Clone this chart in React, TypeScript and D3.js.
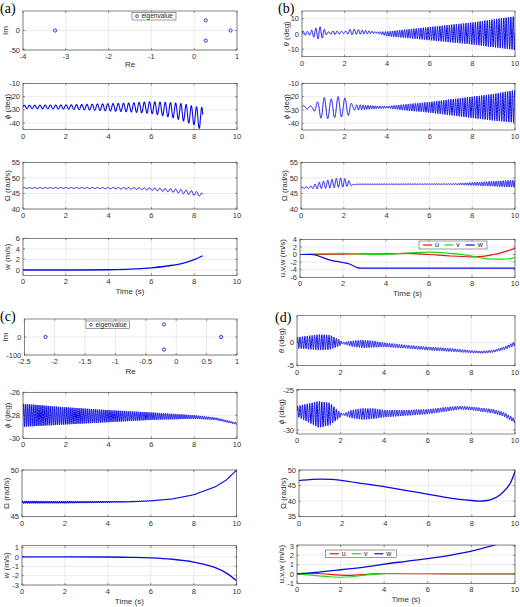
import React from "react";
import * as d3 from "d3";

// ---------------- data ----------------
const timeTicks = [0, 2, 4, 6, 8, 10];

// eigenvalues
const eigARe = [-3.25, 0.27, 0.27, 0.85];
const eigAIm = [0, 26, -26, 0];
const eigCRe = [-2.15, -0.2, -0.2, 0.74];
const eigCIm = [0, 70, -70, 0];

// (a) phi envelope (deg)
const aPhiT = [0, 2, 4, 5, 6, 7, 7.5, 8, 8.4];
const aPhiUp = [-26.6, -26.3, -25.4, -24.8, -23.8, -24.6, -25.5, -27.5, -28.2];
const aPhiLo = [-29.0, -29.4, -30.8, -31.6, -32.8, -36.0, -38.5, -41.5, -46.0];
const aPhiFT = [0, 8.4];
const aPhiF = [4.1, 4.1];

// (a) Omega envelope (rad/s)
const aOmT = [0, 3, 5, 6, 7, 7.5, 8, 8.4];
const aOmUp = [46.9, 46.9, 46.9, 46.8, 46.5, 46.2, 45.8, 45.0];
const aOmLo = [46.6, 46.6, 46.4, 46.0, 45.4, 44.9, 44.4, 44.0];
const aOmFT = [0, 8.4];
const aOmF = [4.1, 4.1];

// (a) w (m/s)
const aWT = [0, 2, 4, 5, 6, 7, 7.5, 8, 8.4];
const aW = [0, 0, 0.05, 0.15, 0.42, 0.9, 1.3, 1.95, 2.7];

// (b) theta envelope
const bThT = [0, 0.3, 0.6, 0.8, 1.0, 1.2, 1.5, 2.0, 2.3, 2.5, 3.0, 3.5, 4, 5, 6, 7, 8, 9, 10];
const bThUp = [1.9, 1.5, 3.5, 5.0, 3.5, 1.2, 2.0, 1.5, 3.2, 3.0, 2.2, 1.3, 1.5, 3.0, 4.5, 6.0, 7.5, 9.5, 11.5];
const bThLo = [-1.1, -0.5, -2.5, -3.6, -2.5, 0.2, -0.5, 0.5, -0.6, -0.3, 0, 0.5, -1.5, -2.8, -4.2, -5.6, -7.0, -8.8, -10.5];
const bThFT = [0, 2.5, 4, 10];
const bThF = [5, 5, 9, 9];

// (b) phi envelope
const bPhT = [0, 0.5, 0.8, 1.0, 1.3, 1.7, 2.0, 2.2, 2.4, 2.6, 3, 3.5, 4, 5, 6, 7, 8, 9, 10];
const bPhUp = [-26.8, -27, -23, -20.5, -22, -20, -21, -21.5, -27, -26, -26.5, -27, -27.2, -25.5, -24, -22, -20, -18, -15];
const bPhLo = [-29, -29.5, -35, -37.5, -36, -35.5, -35, -34, -30, -30, -29.5, -29, -28.6, -30.5, -32, -34, -36, -38, -39.5];
const bPhFT = [0, 2.3, 3, 10];
const bPhF = [3.1, 3.1, 9, 9];

// (b) Omega envelope
const bOmT = [0, 0.4, 0.8, 1.2, 1.6, 1.9, 2.2, 2.4, 2.6, 7, 8, 9, 10];
const bOmUp = [47.0, 47.2, 48.5, 49.2, 49.8, 50.0, 49.5, 47.9, 48.0, 48.1, 48.5, 48.9, 49.3];
const bOmLo = [46.6, 46.6, 46.5, 46.7, 46.9, 47.0, 47.3, 47.6, 47.9, 47.9, 47.6, 47.3, 47.0];
const bOmFT = [0, 2.4, 3, 10];
const bOmF = [5, 5, 9, 9];

// (b) u, v, w
const bUvT = [0, 1, 2, 3, 4, 5, 6, 7, 8, 8.5, 9, 9.5, 10];
const bU = [0, 0.05, 0.1, 0.15, 0.2, 0.3, 0, -0.4, -0.6, -0.5, 0, 0.7, 1.6];
const bV = [0, 0.2, 0.3, 0.1, 0, 0.4, 0.6, 0.3, -0.4, -1.0, -1.2, -1.2, -0.8];
const bWT = [0, 0.5, 0.7, 1, 1.5, 2, 2.3, 2.6, 2.8, 3, 4, 5, 6, 7, 8, 9, 10];
const bW = [0, 0, -0.1, -0.7, -1.6, -2.1, -2.5, -3.3, -3.6, -3.6, -3.6, -3.6, -3.6, -3.6, -3.6, -3.6, -3.6];

// (c) phi envelope
const cPhT = [0, 2, 4, 6, 8, 9, 10];
const cPhUp = [-27.0, -27.3, -27.55, -27.75, -28.0, -28.2, -28.65];
const cPhLo = [-29.0, -28.8, -28.6, -28.4, -28.3, -28.4, -28.8];
const cPhFT = [0, 10];
const cPhF = [11, 11];

// (c) Omega envelope
const cOmT = [0, 2, 4, 5, 6, 7, 8, 9, 9.5, 10];
const cOmUp = [46.65, 46.63, 46.63, 46.63, 46.72, 46.91, 47.36, 48.2, 48.9, 50.0];
const cOmLo = [46.45, 46.47, 46.53, 46.57, 46.68, 46.89, 47.34, 48.2, 48.9, 50.0];
const cOmFT = [0, 10];
const cOmF = [11, 11];

// (c) w
const cWT = [0, 4, 5, 6, 7, 8, 8.5, 9, 9.5, 10];
const cW = [0, -0.01, -0.04, -0.1, -0.25, -0.55, -0.8, -1.15, -1.7, -2.55];

// (d) theta envelope
const dThT = [0, 0.5, 1.0, 1.5, 1.9, 2.1, 2.5, 3.0, 3.5, 4.0, 5, 6, 7, 8, 8.5, 9, 9.5, 10];
const dThUp = [1.2, 1.5, 1.8, 1.7, 0.8, 0.1, 0.4, 0.6, 0.4, 0.0, -0.5, -0.9, -1.2, -1.7, -1.8, -1.6, -0.9, 0.2];
const dThLo = [-1.2, -1.4, -1.6, -1.5, -0.8, -0.2, -0.8, -1.1, -1.0, -0.9, -1.2, -1.6, -1.9, -2.2, -2.3, -2.1, -1.5, -0.6];
const dThFT = [0, 10];
const dThF = [9, 9];

// (d) phi envelope
const dPhT = [0, 0.5, 1.0, 1.5, 1.9, 2.1, 2.5, 3.0, 3.5, 4, 5, 6, 7, 7.5, 8, 9, 9.5, 10];
const dPhUp = [-27.0, -26.7, -26.4, -26.6, -27.6, -28.0, -27.5, -27.3, -27.3, -27.5, -27.5, -27.4, -27.1, -27.0, -27.1, -27.4, -27.8, -28.6];
const dPhLo = [-28.3, -29.0, -29.7, -29.4, -28.6, -28.1, -28.5, -28.7, -28.6, -28.4, -28.2, -28.0, -27.6, -27.4, -27.5, -27.9, -28.3, -29.1];
const dPhFT = [0, 10];
const dPhF = [9, 9];

// (d) Omega
const dOmT = [0, 0.5, 1, 1.5, 2, 3, 4, 5, 6, 7, 8, 8.3, 8.7, 9, 9.3, 9.6, 9.8, 10];
const dOm = [46.6, 46.9, 47.1, 47.0, 46.6, 45.6, 44.6, 43.4, 42.2, 41.0, 40.2, 40.0, 40.2, 40.8, 42.0, 44.0, 46.0, 49.5];

// (d) u, v, w
const dUvT = [0, 0.5, 1, 1.5, 2, 2.5, 3, 3.5, 4, 5, 6, 7, 8, 9, 10];
const dU = [0, 0.05, 0.05, -0.05, -0.12, -0.15, -0.08, 0.0, 0.05, 0.03, 0.02, 0, 0, 0, 0];
const dV = [0, -0.1, -0.2, -0.3, -0.35, -0.3, -0.15, -0.05, 0.02, 0.05, 0.05, 0.04, 0.03, 0.02, 0.02];
const dW = [0, 0.08, 0.2, 0.32, 0.45, 0.57, 0.7, 0.87, 1.05, 1.35, 1.65, 2.0, 2.45, 3.05, 3.8];

// ---------------- helpers ----------------
const BLUE = "#0a0ae6";
const RED = "#f01010";
const GREEN = "#18e018";
const FONT = "'Liberation Sans', Arial, sans-serif";
const AXC = "#3a3a3a";

type Pt = [number, number];

function oscSeries(t: number[], up: number[], lo: number[], fT: number[], fV: number[], tEnd: number): Pt[] {
  const upS = d3.scaleLinear().domain(t).range(up).clamp(true);
  const loS = d3.scaleLinear().domain(t).range(lo).clamp(true);
  const fS = d3.scaleLinear().domain(fT).range(fV).clamp(true);
  const dt = 0.004;
  const pts: Pt[] = [];
  let phase = 0;
  const n = Math.round(tEnd / dt);
  for (let i = 0; i <= n; i++) {
    const s = i * dt;
    const u = upS(s), l = loS(s);
    pts.push([s, (u + l) / 2 + ((u - l) / 2) * Math.sin(phase)]);
    phase += 2 * Math.PI * fS(s) * dt;
  }
  return pts;
}

function zip(t: number[], v: number[]): Pt[] {
  return t.map((d, i) => [d, v[i]] as Pt);
}

type Scale = d3.ScaleLinear<number, number>;

interface AxesProps {
  id: string;
  x0: number; x1: number; y0: number; y1: number;
  xd: number[]; yd: number[];
  xt: number[]; yt: number[];
  ylab: React.ReactNode;
  ylabOff?: number;
  xlab?: string;
  xlabOff?: number;
  children: (x: Scale, y: Scale) => React.ReactNode;
  overlay?: (x: Scale, y: Scale) => React.ReactNode;
}

function Axes(p: AxesProps) {
  const x = d3.scaleLinear().domain(p.xd).range([p.x0, p.x1]);
  const y = d3.scaleLinear().domain(p.yd).range([p.y1, p.y0]);
  const cid = `clip-${p.id}`;
  const fs = 7.5;
  return (
    <g>
      <clipPath id={cid}>
        <rect x={p.x0} y={p.y0} width={p.x1 - p.x0} height={p.y1 - p.y0} />
      </clipPath>
      <rect x={p.x0} y={p.y0} width={p.x1 - p.x0} height={p.y1 - p.y0} fill="#fff" />
      {p.xt.map((v) => (
        <line key={"gx" + v} x1={x(v)} x2={x(v)} y1={p.y0} y2={p.y1} stroke="#dedede" strokeWidth={0.6} />
      ))}
      {p.yt.map((v) => (
        <line key={"gy" + v} x1={p.x0} x2={p.x1} y1={y(v)} y2={y(v)} stroke="#dedede" strokeWidth={0.6} />
      ))}
      <g clipPath={`url(#${cid})`}>{p.children(x, y)}</g>
      <rect x={p.x0} y={p.y0} width={p.x1 - p.x0} height={p.y1 - p.y0} fill="none" stroke={AXC} strokeWidth={0.6} />
      {p.xt.map((v) => (
        <g key={"tx" + v}>
          <line x1={x(v)} x2={x(v)} y1={p.y1} y2={p.y1 - 2} stroke={AXC} strokeWidth={0.5} />
          <line x1={x(v)} x2={x(v)} y1={p.y0} y2={p.y0 + 2} stroke={AXC} strokeWidth={0.5} />
          <text x={x(v)} y={p.y1 + 9} fontSize={fs} textAnchor="middle" fill="#333" fontFamily={FONT}>
            {String(v)}
          </text>
        </g>
      ))}
      {p.yt.map((v) => (
        <g key={"ty" + v}>
          <line x1={p.x0} x2={p.x0 + 2} y1={y(v)} y2={y(v)} stroke={AXC} strokeWidth={0.5} />
          <line x1={p.x1} x2={p.x1 - 2} y1={y(v)} y2={y(v)} stroke={AXC} strokeWidth={0.5} />
          <text x={p.x0 - 3} y={y(v) + 2.7} fontSize={fs} textAnchor="end" fill="#333" fontFamily={FONT}>
            {String(v)}
          </text>
        </g>
      ))}
      <text
        transform={`translate(${p.x0 - (p.ylabOff ?? 16)},${(p.y0 + p.y1) / 2}) rotate(-90)`}
        fontSize={8}
        textAnchor="middle"
        dominantBaseline="central"
        fill="#333"
        fontFamily={FONT}
      >
        {p.ylab}
      </text>
      {p.xlab && (
        <text x={(p.x0 + p.x1) / 2} y={p.y1 + (p.xlabOff ?? 19)} fontSize={8} textAnchor="middle" fill="#333" fontFamily={FONT}>
          {p.xlab}
        </text>
      )}
      {p.overlay && p.overlay(x, y)}
    </g>
  );
}

function Path({ pts, x, y, color = BLUE, w = 1, smooth = false }: { pts: Pt[]; x: Scale; y: Scale; color?: string; w?: number; smooth?: boolean }) {
  const gen = d3
    .line<Pt>()
    .x((d) => x(d[0]))
    .y((d) => y(d[1]))
    .curve(smooth ? d3.curveMonotoneX : d3.curveLinear);
  return <path d={gen(pts) || ""} fill="none" stroke={color} strokeWidth={w} strokeLinejoin="round" />;
}

function Eigs({ re, im, x, y }: { re: number[]; im: number[]; x: Scale; y: Scale }) {
  return (
    <g>
      {re.map((r, i) => (
        <circle key={i} cx={x(r)} cy={y(im[i])} r={1.6} fill="none" stroke="#2222bb" strokeWidth={0.9} />
      ))}
    </g>
  );
}

function EigLegend({ lx, ly, w, h }: { lx: number; ly: number; w: number; h: number }) {
  return (
    <g>
      <rect x={lx} y={ly} width={w} height={h} fill="#fff" stroke={AXC} strokeWidth={0.5} />
      <circle cx={lx + 5} cy={ly + h / 2} r={1.4} fill="none" stroke="#2222bb" strokeWidth={0.8} />
      <text x={lx + 9.5} y={ly + h / 2 + 2.3} fontSize={6.5} fill="#222" fontFamily={FONT}>
        eigenvalue
      </text>
    </g>
  );
}

function UvwLegend({ lx, ly, w, h }: { lx: number; ly: number; w: number; h: number }) {
  const items = [
    { c: RED, t: "u" },
    { c: GREEN, t: "v" },
    { c: BLUE, t: "w" },
  ];
  const step = (w - 4) / 3;
  return (
    <g>
      <rect x={lx} y={ly} width={w} height={h} fill="#fff" stroke={AXC} strokeWidth={0.5} />
      {items.map((it, i) => {
        const sx = lx + 4 + i * step;
        return (
          <g key={it.t}>
            <line x1={sx} x2={sx + 9} y1={ly + h / 2} y2={ly + h / 2} stroke={it.c} strokeWidth={1.2} />
            <text x={sx + 12} y={ly + h / 2 + 2.4} fontSize={7} fill="#222" fontFamily={FONT}>
              {it.t}
            </text>
          </g>
        );
      })}
    </g>
  );
}

const Sym = ({ s }: { s: string }) => <tspan fontStyle="italic">{s}</tspan>;

export default function App() {
  const aPhi = oscSeries(aPhiT, aPhiUp, aPhiLo, aPhiFT, aPhiF, 8.4);
  const aOm = oscSeries(aOmT, aOmUp, aOmLo, aOmFT, aOmF, 8.4);
  const bTh = oscSeries(bThT, bThUp, bThLo, bThFT, bThF, 10);
  const bPh = oscSeries(bPhT, bPhUp, bPhLo, bPhFT, bPhF, 10);
  const bOm = oscSeries(bOmT, bOmUp, bOmLo, bOmFT, bOmF, 10);
  const cPh = oscSeries(cPhT, cPhUp, cPhLo, cPhFT, cPhF, 10);
  const cOm = oscSeries(cOmT, cOmUp, cOmLo, cOmFT, cOmF, 10);
  const dTh = oscSeries(dThT, dThUp, dThLo, dThFT, dThF, 10);
  const dPh = oscSeries(dPhT, dPhUp, dPhLo, dPhFT, dPhF, 10);

  const L0 = 23, L1 = 237;
  const R1 = 515;
  const serif = "'Liberation Serif', 'Times New Roman', serif";

  return (
    <svg width={520} height={607} style={{ position: "absolute", left: 0, top: 0, background: "#fff" }}>
      <rect width={520} height={607} fill="#fff" />
      {/* panel letters */}
      <text x={0} y={13} fontSize={14} fontFamily={serif} fill="#000">(a)</text>
      <text x={278} y={13} fontSize={14} fontFamily={serif} fill="#000">(b)</text>
      <text x={0} y={321} fontSize={14} fontFamily={serif} fill="#000">(c)</text>
      <text x={275} y={322} fontSize={14} fontFamily={serif} fill="#000">(d)</text>

      {/* ---------- (a) ---------- */}
      <Axes id="a1" x0={L0} x1={L1} y0={11} y1={50} xd={[-4, 1]} yd={[-50, 50]} xt={[-4, -3, -2, -1, 0, 1]} yt={[-50, 0]}
        ylab="Im" ylabOff={18} xlab="Re" xlabOff={17}
        overlay={() => <EigLegend lx={132} ly={12.3} w={44} h={7.7} />}>
        {(x, y) => <Eigs re={eigARe} im={eigAIm} x={x} y={y} />}
      </Axes>
      <Axes id="a2" x0={L0} x1={L1} y0={83.5} y1={129.5} xd={[0, 10]} yd={[-45, -10]} xt={timeTicks} yt={[-40, -30, -20, -10]}
        ylab={<><Sym s="ϕ" /> (deg)</>}>
        {(x, y) => <Path pts={aPhi} x={x} y={y} w={1.1} />}
      </Axes>
      <Axes id="a3" x0={L0} x1={L1} y0={162.3} y1={209} xd={[0, 10]} yd={[40, 55]} xt={timeTicks} yt={[40, 45, 50, 55]}
        ylab="Ω (rad/s)">
        {(x, y) => <Path pts={aOm} x={x} y={y} w={1.0} />}
      </Axes>
      <Axes id="a4" x0={L0} x1={L1} y0={238.3} y1={275.3} xd={[0, 10]} yd={[-1, 6]} xt={timeTicks} yt={[0, 2, 4, 6]}
        ylab="w (m/s)" xlab="Time (s)">
        {(x, y) => <Path pts={zip(aWT, aW)} x={x} y={y} smooth w={1.3} />}
      </Axes>

      {/* ---------- (b) ---------- */}
      <Axes id="b1" x0={302} x1={R1} y0={11} y1={56.7} xd={[0, 10]} yd={[-15, 15]} xt={timeTicks} yt={[-10, 0, 10]}
        ylab={<><Sym s="θ" /> (deg)</>}>
        {(x, y) => <Path pts={bTh} x={x} y={y} w={1.0} />}
      </Axes>
      <Axes id="b2" x0={302} x1={R1} y0={83.3} y1={130} xd={[0, 10]} yd={[-45, -10]} xt={timeTicks} yt={[-40, -30, -20, -10]}
        ylab={<><Sym s="ϕ" /> (deg)</>}>
        {(x, y) => <Path pts={bPh} x={x} y={y} w={1.0} />}
      </Axes>
      <Axes id="b3" x0={301} x1={R1} y0={162.3} y1={209} xd={[0, 10]} yd={[40, 55]} xt={timeTicks} yt={[40, 45, 50, 55]}
        ylab="Ω (rad/s)" ylabOff={17}>
        {(x, y) => <Path pts={bOm} x={x} y={y} w={1.0} />}
      </Axes>
      <Axes id="b4" x0={300} x1={R1} y0={239.3} y1={277.3} xd={[0, 10]} yd={[-6, 4]} xt={timeTicks} yt={[-6, -4, -2, 0, 2, 4]}
        ylab="u,v,w (m/s)" ylabOff={18} xlab="Time (s)"
        overlay={() => <UvwLegend lx={419} ly={241} w={68} h={8} />}>
        {(x, y) => (
          <>
            <Path pts={zip(bUvT, bU)} x={x} y={y} color={RED} smooth w={1.2} />
            <Path pts={zip(bUvT, bV)} x={x} y={y} color={GREEN} smooth w={1.2} />
            <Path pts={zip(bWT, bW)} x={x} y={y} color={BLUE} smooth w={1.2} />
          </>
        )}
      </Axes>

      {/* ---------- (c) ---------- */}
      <Axes id="c1" x0={24.3} x1={L1} y0={319} y1={355} xd={[-2.5, 1]} yd={[-100, 100]} xt={[-2.5, -2, -1.5, -1, -0.5, 0, 0.5, 1]} yt={[-100, 0]}
        ylab="Im" ylabOff={19} xlab="Re" xlabOff={19}
        overlay={() => <EigLegend lx={86} ly={321} w={43.5} h={7.5} />}>
        {(x, y) => <Eigs re={eigCRe} im={eigCIm} x={x} y={y} />}
      </Axes>
      <Axes id="c2" x0={L0} x1={L1} y0={392.3} y1={438.3} xd={[0, 10]} yd={[-30, -26]} xt={timeTicks} yt={[-30, -28, -26]}
        ylab={<><Sym s="ϕ" /> (deg)</>}>
        {(x, y) => <Path pts={cPh} x={x} y={y} w={1.0} />}
      </Axes>
      <Axes id="c3" x0={22} x1={236.7} y0={470} y1={516.7} xd={[0, 10]} yd={[45, 50]} xt={timeTicks} yt={[45, 50]}
        ylab="Ω (rad/s)">
        {(x, y) => <Path pts={cOm} x={x} y={y} w={1.1} />}
      </Axes>
      <Axes id="c4" x0={22} x1={236.7} y0={545.7} y1={585} xd={[0, 10]} yd={[-3, 1.2]} xt={timeTicks} yt={[-3, -2, -1, 0, 1]}
        ylab="w (m/s)" xlab="Time (s)">
        {(x, y) => <Path pts={zip(cWT, cW)} x={x} y={y} smooth w={1.3} />}
      </Axes>

      {/* ---------- (d) ---------- */}
      <Axes id="d1" x0={297} x1={R1} y0={315.7} y1={365.7} xd={[0, 10]} yd={[-5, 5.9]} xt={timeTicks} yt={[-5, 0]}
        ylab={<><Sym s="θ" /> (deg)</>}>
        {(x, y) => <Path pts={dTh} x={x} y={y} w={1.0} />}
      </Axes>
      <Axes id="d2" x0={297} x1={R1} y0={389.3} y1={434} xd={[0, 10]} yd={[-30.5, -24.9]} xt={timeTicks} yt={[-30, -25]}
        ylab={<><Sym s="ϕ" /> (deg)</>}>
        {(x, y) => <Path pts={dPh} x={x} y={y} w={1.0} />}
      </Axes>
      <Axes id="d3" x0={299} x1={R1} y0={470} y1={516.7} xd={[0, 10]} yd={[35, 50]} xt={timeTicks} yt={[35, 40, 45, 50]}
        ylab="Ω (rad/s)">
        {(x, y) => <Path pts={zip(dOmT, dOm)} x={x} y={y} smooth w={1.3} />}
      </Axes>
      <Axes id="d4" x0={297} x1={R1} y0={545} y1={583.3} xd={[0, 10]} yd={[-1, 3.1]} xt={timeTicks} yt={[-1, 0, 1, 2, 3]}
        ylab="u,v,w (m/s)" xlab="Time (s)"
        overlay={() => <UvwLegend lx={325.7} ly={550} w={71} h={7.5} />}>
        {(x, y) => (
          <>
            <Path pts={zip(dUvT, dU)} x={x} y={y} color={RED} smooth w={1.2} />
            <Path pts={zip(dUvT, dV)} x={x} y={y} color={GREEN} smooth w={1.2} />
            <Path pts={zip(dUvT, dW)} x={x} y={y} color={BLUE} smooth w={1.3} />
          </>
        )}
      </Axes>
    </svg>
  );
}
